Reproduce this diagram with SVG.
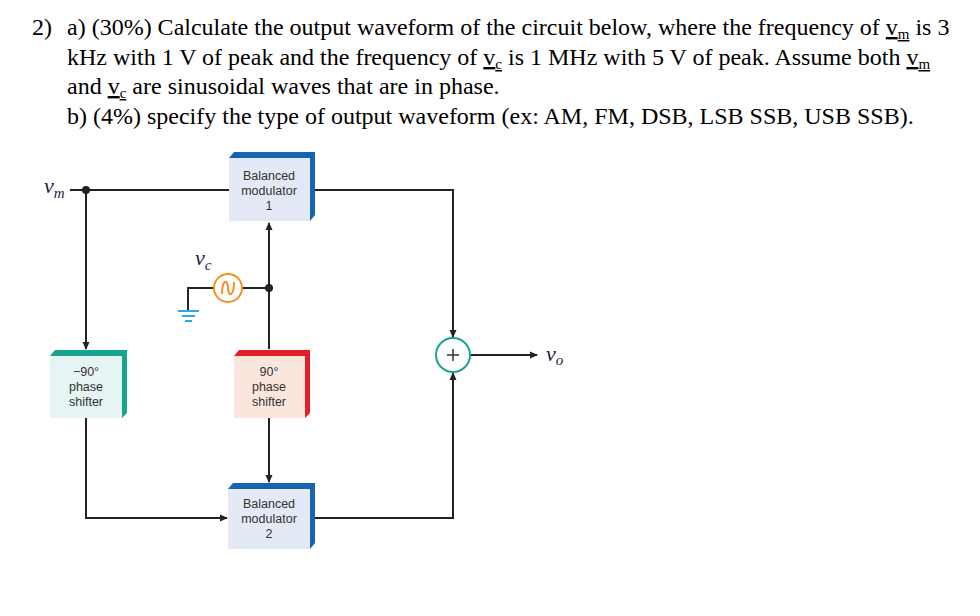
<svg xmlns="http://www.w3.org/2000/svg" width="980" height="616" viewBox="0 0 980 616">
<style>
.q{font-family:"Liberation Serif",serif;font-size:24px;fill:#000}
.b{font-family:"Liberation Sans",Arial,sans-serif;font-size:12.5px;fill:#333;text-anchor:middle}
.v{font-family:"Liberation Serif",serif;font-style:italic;font-size:22px;fill:#1a1a3a}
.w{stroke:#222;stroke-width:2;fill:none}
.u{text-decoration:underline}
</style>
<defs>
<marker id="a" markerWidth="8" markerHeight="8" refX="7" refY="4" orient="auto" markerUnits="userSpaceOnUse"><path d="M0,0.5 L8,4 L0,7.5z" fill="#222"/></marker>
</defs>
<rect width="980" height="616" fill="#fff"/>
<text class="q" x="32" y="35">2)</text>
<text class="q" x="67" y="35">a) (30%) Calculate the output waveform of the circuit below, where the frequency of <tspan class="u">v<tspan font-size="15" dy="4">m</tspan></tspan><tspan dy="-4"> is 3</tspan></text>
<text class="q" x="67" y="65">kHz with 1 V of peak and the frequency of <tspan class="u">v<tspan font-size="15" dy="4">c</tspan></tspan><tspan dy="-4"> is 1 MHz with 5 V of peak. Assume both </tspan><tspan class="u">v<tspan font-size="15" dy="4">m</tspan></tspan></text>
<text class="q" x="67" y="94">and <tspan class="u">v<tspan font-size="15" dy="4">c</tspan></tspan><tspan dy="-4"> are sinusoidal waves that are in phase.</tspan></text>
<text class="q" x="67" y="124">b) (4%) specify the type of output waveform (ex: AM, FM, DSB, LSB SSB, USB SSB).</text>

<g id="connectors">
<path class="w" d="M70,190 H229"/>
<path class="w" d="M86,190 V349" marker-end="url(#a)"/>
<path class="w" d="M310,190 H453 V337" marker-end="url(#a)"/>
<path class="w" d="M269,349 V223" marker-end="url(#a)"/>
<path class="w" d="M242,288 H269"/>
<path class="w" d="M214,288 H188 V311"/>
<path class="w" d="M269,418 V482" marker-end="url(#a)"/>
<path class="w" d="M86,418 V518 H227" marker-end="url(#a)"/>
<path class="w" d="M310,518 H453 V373" marker-end="url(#a)"/>
<path class="w" d="M470,355 H537" marker-end="url(#a)"/>
<circle cx="86" cy="190" r="4" fill="#222"/>
<circle cx="269" cy="288" r="4" fill="#222"/>
</g>

<g id="vm"><text class="v" x="44" y="193">v<tspan font-size="15" dy="5">m</tspan></text></g>
<g id="vc"><text class="v" x="195" y="265">v<tspan font-size="15" dy="5">c</tspan></text></g>
<g id="vo"><text class="v" x="546" y="361">v<tspan font-size="15" dy="4">o</tspan></text></g>

<g id="ground" stroke="#29aae1" stroke-width="2">
<line x1="178" y1="311" x2="199" y2="311"/><line x1="182" y1="316" x2="195" y2="316"/><line x1="185" y1="321" x2="192" y2="321"/>
</g>

<g id="source">
<circle cx="228" cy="288" r="14" fill="#fff" stroke="#f7901e" stroke-width="2"/>
<path d="M222,294 C222,279 228,279 228,288 C228,297 234,297 234,282" fill="none" stroke="#f7901e" stroke-width="2"/>
</g>

<g id="bm1">
<polygon points="229,158 234,152 315,152 315,215 310,221 310,158" fill="#1565b0"/>
<rect x="229" y="158" width="81" height="63" fill="#e3e9f5"/>
<text class="b" x="269" y="180">Balanced</text><text class="b" x="269" y="195">modulator</text><text class="b" x="269" y="210">1</text>
</g>

<g id="ps1">
<polygon points="50,356 55,350 127,350 127,413 122,418 122,356" fill="#18a58f"/>
<rect x="50" y="356" width="72" height="62" fill="#e6f4f3"/>
<text class="b" x="86" y="376">−90°</text><text class="b" x="86" y="391">phase</text><text class="b" x="86" y="406">shifter</text>
</g>

<g id="ps2">
<polygon points="234,356 239,350 310,350 310,413 305,418 305,356" fill="#e3202a"/>
<rect x="234" y="356" width="71" height="62" fill="#fbe6de"/>
<text class="b" x="269" y="376">90°</text><text class="b" x="269" y="391">phase</text><text class="b" x="269" y="406">shifter</text>
</g>

<g id="bm2">
<polygon points="228,489 233,483 315,483 315,543 310,549 310,489" fill="#1565b0"/>
<rect x="228" y="489" width="82" height="60" fill="#e3e9f5"/>
<text class="b" x="269" y="508">Balanced</text><text class="b" x="269" y="523">modulator</text><text class="b" x="269" y="538">2</text>
</g>

<g id="sum">
<circle cx="453" cy="355" r="17" fill="#fff" stroke="#18a58f" stroke-width="2"/>
<path d="M447,355 H459 M453,349 V361" stroke="#333" stroke-width="1.5"/>
</g>
</svg>
